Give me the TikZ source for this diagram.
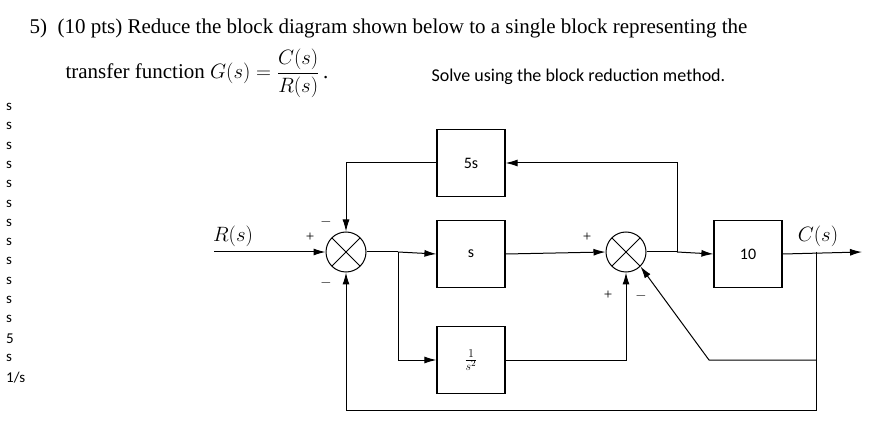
\documentclass[tikz,border=0pt]{standalone}
\usepackage{fontspec}
\setmainfont{Liberation Serif}
\newfontfamily\calfnt{Carlito}
\usetikzlibrary{arrows.meta}
\begin{document}
\begin{tikzpicture}[x=1pt,y=-1pt,
  blk/.style={draw,line width=1.2pt,minimum width=68pt,minimum height=67pt,inner sep=0pt,font=\calfnt\fontsize{16}{18}\selectfont},
  sum/.style={draw,circle,line width=1pt,minimum size=40pt,inner sep=0pt,path picture={\draw[line width=1pt] (path picture bounding box.north west)--(path picture bounding box.south east) (path picture bounding box.north east)--(path picture bounding box.south west);}},
  sig/.style={font=\fontsize{15}{15}\selectfont},
  ar/.style={-{Latex[length=12pt,width=7pt]},line width=1pt},
  ln/.style={line width=1pt}]
\useasboundingbox (0,0) rectangle (892,422);
\node[anchor=west,font=\fontsize{21}{24}\selectfont] (t1) at (26,28) {5)\ \ (10 pts) Reduce the block diagram shown below to a single block representing the};
\node[anchor=west,font=\fontsize{21}{24}\selectfont] (t2) at (62,73) {transfer function $G(s)=\displaystyle\frac{C(s)}{R(s)}$\,.};
\node[anchor=west,font=\calfnt\fontsize{18}{20}\selectfont] (t3) at (428,77) {Solve using the block reduction method.};
\foreach \t [count=\i] in {s,s,s,s,s,s,s,s,s,s,s,s,5,s,1/s}
  \node[anchor=west,font=\calfnt\fontsize{15}{16}\selectfont,inner sep=0pt] (l\i) at (6,{107+19.3*(\i-1)}) {\t};
\node[sum] (s1) at (346,252) {};
\node[sum] (s2) at (626,252) {};
\node[blk] (b5) at (471,163) {5s};
\node[blk] (bs) at (471,254) {s};
\node[blk,font=\fontsize{18}{20}\selectfont] (bi) at (471,360) {$\frac{1}{s^2}$};
\node[blk] (b10) at (748,254) {10};
\coordinate (in) at (214,252);
\coordinate (out) at (862,252);
\coordinate (br1) at (398,252);
\coordinate (br2) at (677,252);
\coordinate (co) at (816,252);
\coordinate (bl) at (346,410);
\coordinate (dg) at (709,360);
\coordinate (dr) at (816,360);
\draw[ar] (in) -- (s1.west);
\draw[ln] (s1.east) -- (br1);
\draw[ar] (br1) -- (bs.west);
\draw[ar] (br1) |- (bi.west);
\draw[ar] (b5.west) -| (s1.north);
\draw[ar] (bs.east) -- (s2.west);
\draw[ar] (bi.east) -| (s2.south);
\draw[ln] (s2.east) -- (br2);
\draw[ar] (br2) -- (b10.west);
\draw[ar] (br2) |- (b5.east);
\draw[ar] (b10.east) -- (out);
\draw[ar] (co) |- (bl) -- (s1.south);
\draw[ar] (dr) -- (dg) -- (s2.south east);
\node[font=\fontsize{20}{22}\selectfont] (rl) at (233,236) {$R(s)$};
\node[font=\fontsize{20}{22}\selectfont] (cl) at (818,236) {$C(s)$};
\node[sig] at (310,237) {+};
\node[sig] at (326,222) {$-$};
\node[sig] at (326,283) {$-$};
\node[sig] at (587,237) {+};
\node[sig] at (608,295) {+};
\node[sig] at (641,296) {$-$};
\end{tikzpicture}
\end{document}
